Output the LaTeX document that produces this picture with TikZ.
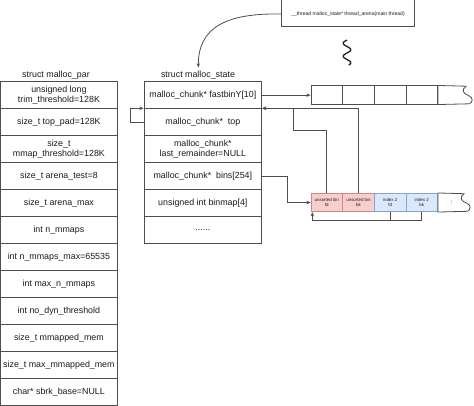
\documentclass[tikz,border=0pt]{standalone}
\usepackage{fontspec}
\setmainfont{Liberation Sans}
\usetikzlibrary{arrows.meta,calc}
\definecolor{linec}{HTML}{4D4D4D}
\definecolor{txtc}{HTML}{1A1A1A}
\definecolor{pinkf}{HTML}{F8CECC}
\definecolor{pinkd}{HTML}{B85450}
\definecolor{bluef}{HTML}{DAE8FC}
\definecolor{blued}{HTML}{6C8EBF}
\begin{document}
\begin{tikzpicture}[x=0.75pt,y=-0.75pt,
  rowfont/.style={font=\fontsize{6.65}{8}\selectfont, text=txtc, align=center},
  lrow/.style={draw=linec, line width=0.6pt, rowfont, minimum width=87.6pt, minimum height=20.25pt, inner sep=0pt},
  mrow/.style={draw=linec, line width=0.6pt, rowfont, minimum width=88.3pt, minimum height=20.25pt, inner sep=0pt},
  cell/.style={draw=linec, line width=0.6pt, fill=white, minimum width=23.7pt, minimum height=13.7pt, inner sep=0pt},
  pcell/.style={cell, fill=pinkf, draw=pinkd!70, font=\fontsize{3.3}{3.9}\selectfont, text=txtc, align=center},
  bcell/.style={cell, fill=bluef, draw=blued!80, font=\fontsize{3.3}{3.9}\selectfont, text=txtc, align=center},
  title/.style={rowfont, inner sep=0pt},
  conn/.style={draw=linec, line width=0.6pt, -{Stealth[length=3.2pt,width=2.6pt]}},
  plain/.style={draw=linec, line width=0.6pt}
]
\useasboundingbox (0,0) rectangle (474,406);

% top box
\node[draw=linec, line width=0.6pt, minimum width=99.6pt, minimum height=27pt, inner sep=0pt] (tb) at (348,8.5) {};
\node[font=\fontsize{3.8}{4.5}\selectfont, text=txtc, inner sep=0pt] (tbt) at (348,14) {\_\_thread malloc\_state* thread\_arena(main thread)};
\coordinate (arrowend) at (198.3,67.5);
\draw[conn] (tb.west |- tbt) .. controls (225,13) and (198.3,28) .. (arrowend);

% squiggle
\draw[draw=black!85, line width=1pt] plot[domain=0:25, samples=80, smooth] ({347-3.8*sin(\x*360/13)}, {40+\x});

% titles
\node[title] (t1) at (56,75) {struct malloc\_par};
\node[title] (t2) at (198,75) {struct malloc\_state};

% left struct
\node[lrow] (l1)  at (58.9,95.2)  {unsigned long\\trim\_threshold=128K};
\node[lrow] (l2)  at (58.9,122.2) {size\_t top\_pad=128K};
\node[lrow] (l3)  at (58.9,149.2) {size\_t\\mmap\_threshold=128K};
\node[lrow] (l4)  at (58.9,176.2) {size\_t arena\_test=8};
\node[lrow] (l5)  at (58.9,203.2) {size\_t arena\_max};
\node[lrow] (l6)  at (58.9,230.2) {int n\_mmaps};
\node[lrow] (l7)  at (58.9,257.2) {int n\_mmaps\_max=65535};
\node[lrow] (l8)  at (58.9,284.2) {int max\_n\_mmaps};
\node[lrow] (l9)  at (58.9,311.2) {int no\_dyn\_threshold};
\node[lrow] (l10) at (58.9,338.2) {size\_t mmapped\_mem};
\node[lrow] (l11) at (58.9,365.2) {size\_t max\_mmapped\_mem};
\node[lrow] (l12) at (58.9,392.2) {char* sbrk\_base=NULL};

% middle struct
\node[mrow] (m1) at (202.85,95.2)  {malloc\_chunk* fastbinY[10]};
\node[mrow] (m2) at (202.85,122.2) {malloc\_chunk*\ \ top};
\node[mrow] (m3) at (202.85,149.2) {malloc\_chunk*\\last\_remainder=NULL};
\node[mrow] (m4) at (202.85,176.2) {malloc\_chunk*\ \ bins[254]};
\node[mrow] (m5) at (202.85,203.2) {unsigned int binmap[4]};
\node[mrow] (m6) at (202.85,230.2) {......};

% fastbin array
\node[cell] (a1) at (326.8,95) {};
\node[cell] (a2) at (358.5,95) {};
\node[cell] (a3) at (390.2,95) {};
\node[cell] (a4) at (421.7,95) {};
\draw[plain, fill=white] (a4.north east) -- (466,86.2) .. controls (461,90) and (463,93.5) .. (468.5,95.5) .. controls (474,98) and (472.5,102) .. (469.5,103.8) -- (a4.south east) -- cycle;

% bins array
\node[pcell] (b1) at (326.8,202.5) {unsorted bin\\fd};
\node[pcell] (b2) at (358.5,202.5) {unsorted bin\\bk};
\node[bcell] (b3) at (390.2,202.5) {index 2\\fd};
\node[bcell] (b4) at (421.7,202.5) {index 2\\bk};
\draw[plain, fill=white] (b4.north east) -- (464,193.7) .. controls (459,197.5) and (461,201) .. (466.5,203) .. controls (472,205.5) and (470.5,209.5) .. (467.5,211.3) -- (b4.south east) -- cycle;
\node[font=\fontsize{3.2}{3.8}\selectfont, text=black!40, inner sep=0pt] (b5) at (451.7,202) {|};

% connectors
\draw[conn] (m1.east) -- (m1.east -| a1.west);
\draw[conn] (m4.east) -- ++(25,0) |- (b1.west);
\draw[conn] (m2.west) -- ++(-13.5,0) |- (m2.north west);
\draw[conn] (b2.north) |- (m2.north east);
\coordinate (fdbend) at (293,130);
\draw[conn] (b1.north) |- (fdbend) |- (m2.north east);
\coordinate (loopc) at (312.3,220.5);
\draw[conn] (b4.south) |- (loopc) -- (loopc |- b1.south);
\draw[plain] (b3.south) -- (b3.south |- loopc);
\end{tikzpicture}
\end{document}
